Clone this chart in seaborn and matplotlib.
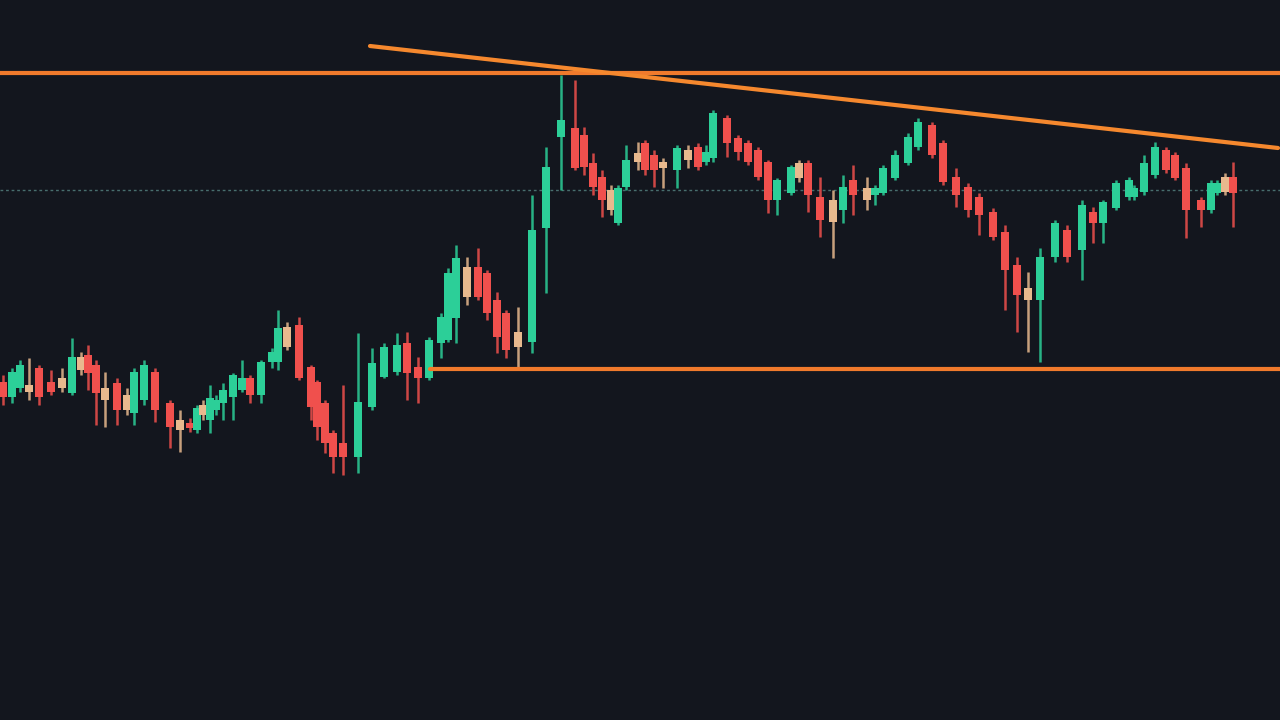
import numpy as np
import pandas as pd
import matplotlib
matplotlib.use("Agg")
import matplotlib.pyplot as plt
import seaborn as sns

# ---- candle data (time index, OHLC, kind: u=up, d=down, n=neutral/doji) ----
t = [3, 12, 20, 29, 39, 51, 62, 72, 81, 88, 96, 105, 117, 127, 134, 144, 155, 170, 180, 190,
     197, 203, 210, 216, 223, 233, 242, 250, 261, 272, 278, 287, 299, 311, 317, 325, 333, 343, 358, 372,
     384, 397, 407, 418, 429, 441, 448, 456, 467, 478, 487, 497, 506, 518, 532, 546, 561, 575, 584, 593,
     602, 611, 618, 626, 638, 645, 654, 663, 677, 688, 698, 706, 713, 727, 738, 748, 758, 768, 777, 791,
     799, 808, 820, 833, 843, 853, 867, 875, 883, 895, 908, 918, 932, 943, 956, 968, 979, 993, 1005, 1017,
     1028, 1040, 1055, 1067, 1082, 1093, 1103, 1116, 1129, 1134, 1144, 1155, 1166, 1175, 1186, 1201, 1211, 1217, 1225, 1233]
open_ = [338, 323, 332, 335, 352, 338, 332, 327, 350, 365, 355, 332, 337, 310, 307, 320, 348, 317, 300, 297,
         290, 305, 300, 310, 317, 323, 330, 342, 325, 358, 358, 373, 395, 353, 338, 317, 287, 277, 263, 313,
         343, 348, 377, 353, 342, 377, 380, 402, 453, 453, 447, 420, 407, 373, 378, 492, 583, 592, 585, 557,
         543, 510, 497, 533, 558, 577, 565, 552, 550, 560, 573, 558, 562, 602, 582, 577, 570, 558, 520, 527,
         542, 557, 523, 498, 510, 540, 520, 525, 527, 542, 557, 573, 595, 577, 543, 533, 523, 508, 488, 455,
         432, 420, 463, 490, 470, 508, 497, 512, 523, 523, 528, 545, 570, 565, 552, 520, 510, 527, 528, 543]
close = [323, 348, 355, 328, 323, 328, 342, 363, 363, 347, 327, 320, 310, 325, 348, 355, 310, 293, 290, 292,
         312, 315, 322, 320, 330, 345, 342, 325, 358, 368, 392, 393, 342, 313, 293, 277, 263, 263, 318, 357,
         373, 375, 347, 342, 380, 403, 447, 462, 423, 423, 407, 383, 370, 388, 490, 553, 600, 552, 553, 533,
         520, 530, 532, 560, 567, 550, 550, 558, 572, 570, 553, 568, 607, 577, 568, 558, 543, 520, 540, 553,
         557, 525, 500, 520, 533, 525, 532, 532, 552, 565, 583, 598, 565, 538, 525, 510, 505, 483, 450, 425,
         420, 463, 497, 463, 515, 497, 518, 537, 540, 532, 557, 573, 550, 542, 510, 510, 537, 537, 543, 527]
high = [345, 352, 360, 362, 355, 350, 352, 382, 368, 375, 360, 348, 342, 332, 352, 360, 352, 320, 310, 302,
        315, 320, 335, 325, 337, 347, 360, 345, 360, 372, 410, 398, 403, 355, 340, 320, 290, 335, 387, 372,
        377, 387, 388, 363, 383, 407, 452, 475, 463, 472, 450, 428, 410, 413, 525, 573, 645, 640, 593, 567,
        550, 535, 535, 575, 578, 580, 570, 562, 575, 575, 577, 575, 610, 605, 585, 580, 573, 560, 542, 555,
        560, 560, 543, 530, 545, 555, 543, 535, 555, 570, 587, 602, 598, 580, 552, 537, 527, 512, 495, 463,
        448, 472, 500, 495, 520, 513, 520, 540, 543, 535, 565, 578, 573, 568, 557, 523, 540, 540, 547, 558]
low = [315, 317, 328, 320, 315, 325, 328, 325, 345, 330, 295, 293, 295, 305, 295, 315, 298, 272, 268, 288,
       287, 300, 287, 305, 300, 300, 328, 317, 317, 352, 350, 370, 340, 300, 280, 267, 247, 245, 247, 310,
       342, 345, 320, 317, 340, 362, 378, 377, 415, 420, 400, 367, 362, 353, 367, 427, 530, 550, 545, 525,
       503, 505, 495, 530, 550, 545, 533, 532, 532, 552, 550, 555, 558, 563, 560, 555, 540, 507, 505, 525,
       538, 508, 483, 462, 497, 505, 510, 515, 525, 540, 555, 570, 562, 535, 513, 503, 485, 480, 410, 388,
       368, 358, 458, 458, 440, 477, 477, 510, 520, 520, 525, 542, 547, 540, 482, 493, 507, 525, 525, 493]
kind = ["d", "u", "u", "n", "d", "d", "n", "u", "n", "d", "d", "n", "d", "n", "u", "u", "d", "d", "n", "d",
        "u", "n", "u", "u", "u", "u", "u", "d", "u", "u", "u", "n", "d", "d", "d", "d", "d", "d", "u", "u",
        "u", "u", "d", "d", "u", "u", "u", "u", "n", "d", "d", "d", "d", "n", "u", "u", "u", "d", "d", "d",
        "d", "n", "u", "u", "n", "d", "d", "n", "u", "n", "d", "u", "u", "d", "d", "d", "d", "d", "u", "u",
        "n", "d", "d", "n", "u", "d", "n", "u", "u", "u", "u", "u", "d", "d", "d", "d", "d", "d", "d", "d",
        "n", "u", "u", "d", "u", "d", "u", "u", "u", "u", "u", "u", "d", "d", "d", "d", "u", "u", "n", "d"]

# ---- drawn levels ----
resistance = 647
support = 351
support_start = 430
mid_level = 530
trend_t = [370, 1278]
trend_p = [674, 572]

BG = "#13161e"
GREEN = "#2ccf98"
RED = "#f0504d"
PALE = "#e8b98e"
ORANGE_TOP = "#f07a2c"
ORANGE = "#f5882e"

sns.set_style("dark", {"axes.facecolor": BG, "figure.facecolor": BG})

df = pd.DataFrame({"t": t, "open": open_, "high": high, "low": low, "close": close, "kind": kind})
cmap = {"u": GREEN, "d": RED, "n": PALE}
df["color"] = df["kind"].map(cmap)
df["bottom"] = df[["open", "close"]].min(axis=1)
df["height"] = (df["open"] - df["close"]).abs().clip(lower=4)

fig = plt.figure(figsize=(12.8, 7.2), dpi=100)
ax = fig.add_axes([0, 0, 1, 1])
ax.set_facecolor(BG)

# dotted mid line
mid_df = pd.DataFrame({"t": [0, 1280], "p": [mid_level, mid_level]})
sns.lineplot(data=mid_df, x="t", y="p", ax=ax, color="#5a8c8a", lw=1.0,
             linestyle=(0, (2, 2)), alpha=0.75)

# wicks and bodies
ax.vlines(df["t"], df["low"], df["high"], colors=df["color"], lw=1.8, alpha=0.85, zorder=3)
ax.bar(df["t"], df["height"], bottom=df["bottom"], width=8, color=df["color"],
       edgecolor="none", zorder=4)

# orange levels and trendline
top_df = pd.DataFrame({"t": [0, 1280], "p": [resistance, resistance]})
sup_df = pd.DataFrame({"t": [support_start, 1280], "p": [support, support]})
tr_df = pd.DataFrame({"t": trend_t, "p": trend_p})
sns.lineplot(data=top_df, x="t", y="p", ax=ax, color=ORANGE_TOP, lw=3.0, zorder=5)
sns.lineplot(data=sup_df, x="t", y="p", ax=ax, color=ORANGE_TOP, lw=3.0, zorder=5)
sns.lineplot(data=tr_df, x="t", y="p", ax=ax, color=ORANGE, lw=3.0, zorder=5,
             solid_capstyle="round")

ax.set_xlim(0, 1280)
ax.set_ylim(0, 720)
ax.axis("off")
fig.savefig("out.png", dpi=100, facecolor=BG)
